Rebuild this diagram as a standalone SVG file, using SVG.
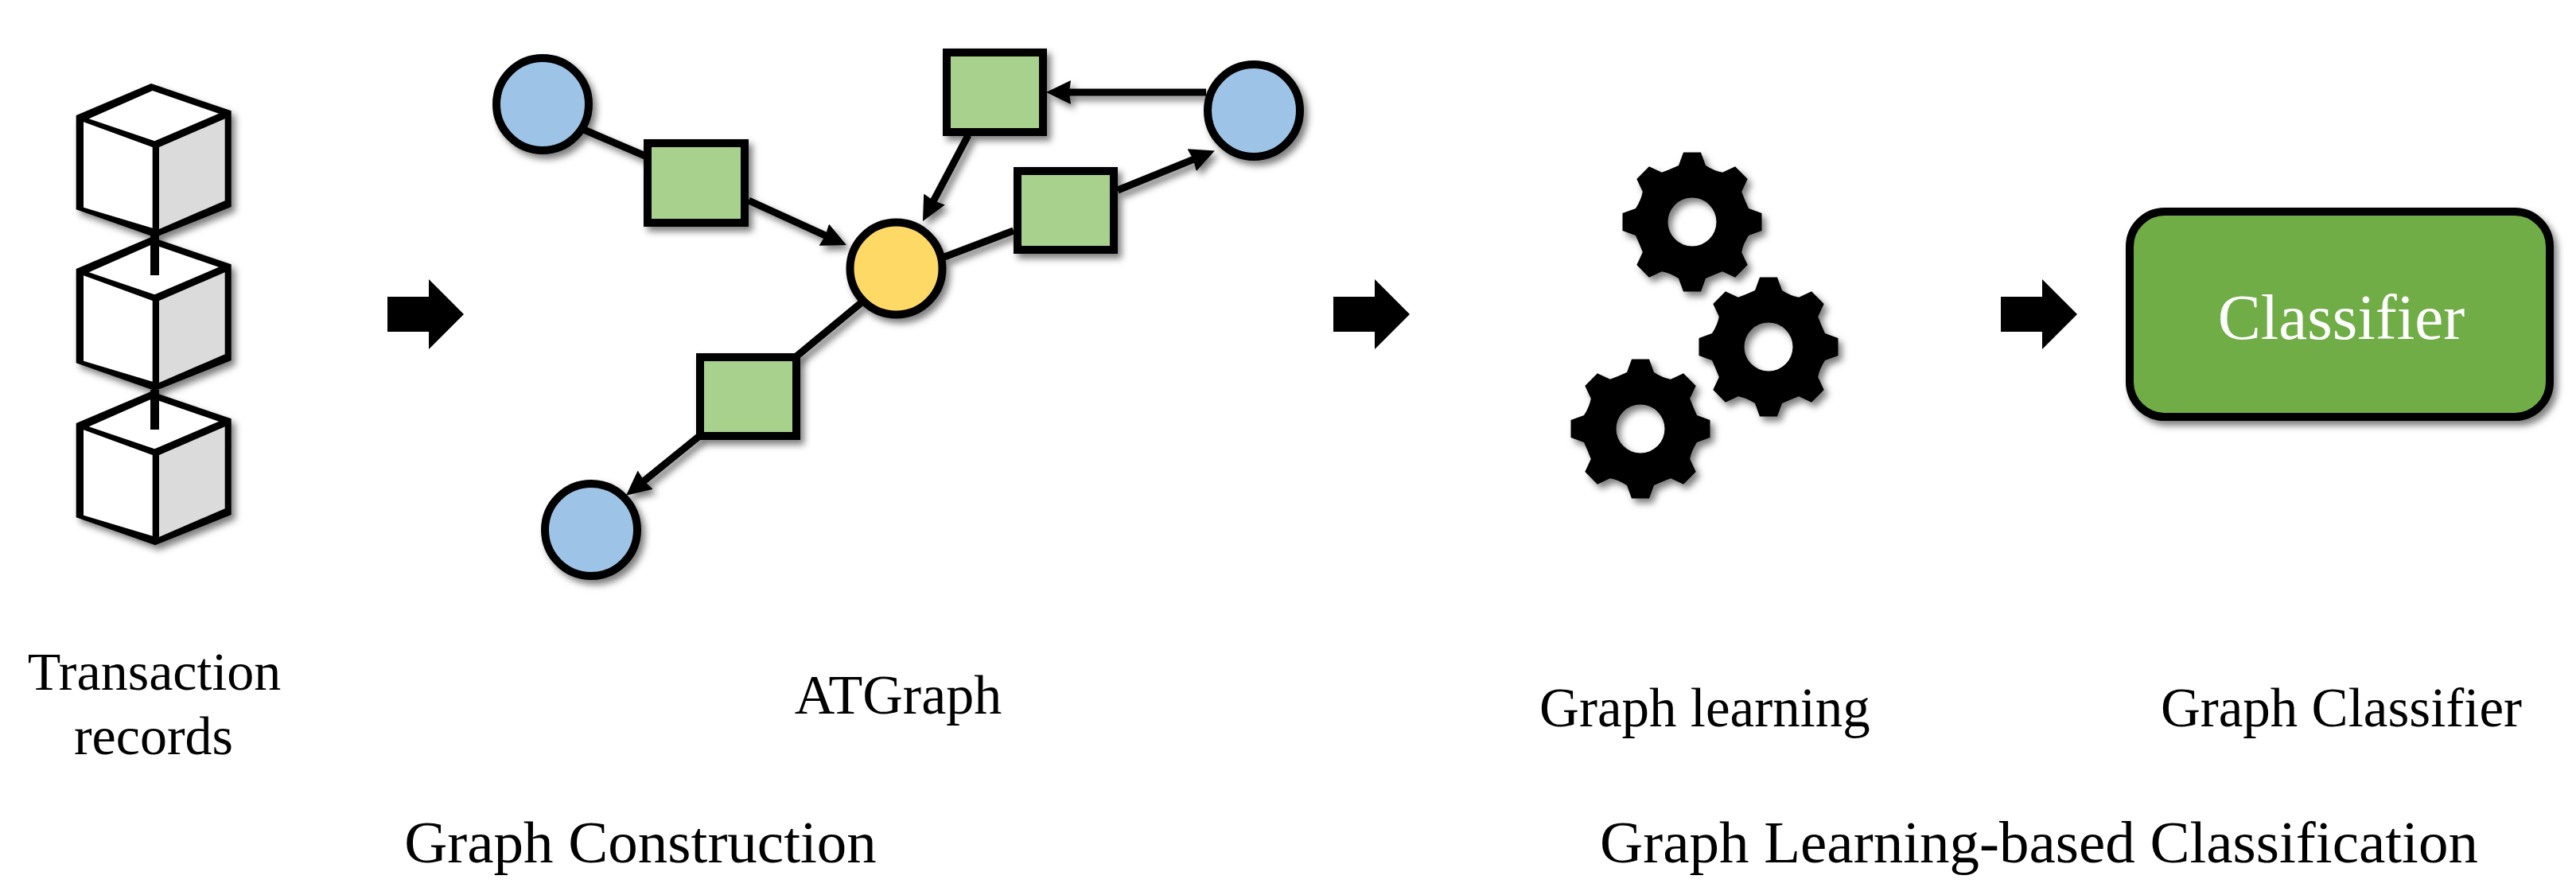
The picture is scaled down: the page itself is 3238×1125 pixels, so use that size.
<svg xmlns="http://www.w3.org/2000/svg" xmlns:xlink="http://www.w3.org/1999/xlink" width="3238" height="1125" viewBox="0 0 3238 1125">
<style>
text{font-family:"Liberation Serif","Times New Roman",serif;fill:#000;text-anchor:middle}
.t{font-size:69px}
.h{font-size:68px}
.b{font-size:75px}
.sq{fill:#a9d18e;stroke:#000;stroke-width:10}
.bl{fill:#9dc3e6;stroke:#000;stroke-width:10}
.ye{fill:#ffd966;stroke:#000;stroke-width:10}
.ln{stroke:#000;stroke-width:9;fill:none}
.ar{marker-end:url(#ah)}
</style>
<defs>
<filter id="sh" x="-20%" y="-20%" width="150%" height="150%"><feDropShadow dx="5" dy="6" stdDeviation="4" flood-color="#000" flood-opacity="0.5"/></filter>
<marker id="ah" viewBox="0 0 31 30" refX="16" refY="15" markerWidth="31" markerHeight="30" markerUnits="userSpaceOnUse" orient="auto"><path d="M0 0L31 15L0 30L2 15Z" fill="#000"/></marker>
<path id="gear" fill-rule="evenodd" fill="#000" d="M-11-87.5L11-87.5L17-71Q28-64 38.1-62.2L54.1-69.7L69.7-54.1L62.2-38.1Q66-28 71-17L87.5-11L87.5 11L71 17Q64 28 62.2 38.1L69.7 54.1L54.1 69.7L38.1 62.2Q28 66 17 71L11 87.5L-11 87.5L-17 71Q-28 64-38.1 62.2L-54.1 69.7L-69.7 54.1L-62.2 38.1Q-66 28-71 17L-87.5 11L-87.5-11L-71-17Q-64-28-62.2-38.1L-69.7-54.1L-54.1-69.7L-38.1-62.2Q-28-66-17-71ZM30.5 0A30.5 30.5 0 1 0-30.5 0A30.5 30.5 0 1 0 30.5 0Z"/>
<g id="cube">
<path d="M190 105L290.7 139.3V260L195 298.3L95.7 263.3V145Z" fill="#000"/>
<path d="M191.7 114L275 142.7L194.3 177.3L111.7 149.3Z" fill="#fff"/>
<path d="M105 153.3L191.7 185V286.7L105 260.7Z" fill="#fff"/>
<path d="M200 185L282.7 149.3V252.3L200 288Z" fill="#dbdbdb"/>
</g>
<path id="block" d="M0 22H52V0L96 44L52 88V66H0Z" fill="#000"/>
</defs>
<rect width="3238" height="1125" fill="#fff"/>
<g id="blockchain" filter="url(#sh)">
<use href="#cube"/>
<use href="#cube" y="193"/>
<use href="#cube" y="387"/>
<rect x="189" y="296" width="11" height="50"/>
<rect x="189" y="490" width="11" height="50"/>
</g>
<g id="connectors" filter="url(#sh)">
<path class="ln" d="M734 163L811 196"/>
<path class="ln ar" d="M941 252L1050.3 301.8"/>
<path class="ln ar" d="M1217 170L1167 264.7"/>
<path class="ln ar" d="M1516 116L1330 116"/>
<path class="ln" d="M1187 323L1274 290"/>
<path class="ln ar" d="M1405 239L1513 195.2"/>
<path class="ln" d="M1082 381L1001 448"/>
<path class="ln ar" d="M878 549L798.7 613.2"/>
</g>
<g id="node-blue-1" filter="url(#sh)"><circle class="bl" cx="682" cy="131" r="58"/></g>
<g id="node-blue-2" filter="url(#sh)"><circle class="bl" cx="1576" cy="139" r="58"/></g>
<g id="node-blue-3" filter="url(#sh)"><circle class="bl" cx="743" cy="666" r="58"/></g>
<g id="node-yellow" filter="url(#sh)"><circle class="ye" cx="1126.5" cy="337.5" r="58"/></g>
<g id="node-sq-1" filter="url(#sh)"><rect class="sq" x="814" y="180" width="122" height="100"/></g>
<g id="node-sq-2" filter="url(#sh)"><rect class="sq" x="1190" y="66" width="121" height="100"/></g>
<g id="node-sq-3" filter="url(#sh)"><rect class="sq" x="1279" y="215" width="121" height="99"/></g>
<g id="node-sq-4" filter="url(#sh)"><rect class="sq" x="880" y="449" width="121" height="99"/></g>
<g id="gears" filter="url(#sh)">
<use href="#gear" x="2127" y="279"/>
<use href="#gear" x="2223" y="436"/>
<use href="#gear" x="2062" y="539"/>
</g>
<g id="arrow-1"><use href="#block" x="487" y="351"/></g>
<g id="arrow-2"><use href="#block" x="1676" y="351"/></g>
<g id="arrow-3"><use href="#block" x="2515" y="351"/></g>
<g id="classifier">
<rect x="2677" y="266" width="528" height="258" rx="44" fill="#70ad47" stroke="#000" stroke-width="10" filter="url(#sh)"/>
<text x="2943" y="426" font-size="81" style="fill:#fff">Classifier</text>
</g>
<g id="labels">
<text class="h" x="194" y="867">Transaction</text>
<text class="h" x="193" y="948">records</text>
<text class="t" x="1129" y="897" style="font-size:70px">ATGraph</text>
<text class="t" x="2143" y="913">Graph learning</text>
<text class="t" x="2943" y="913">Graph Classifier</text>
<text class="b" x="805" y="1084">Graph Construction</text>
<text class="b" x="2563" y="1084">Graph Learning-based Classification</text>
</g>
</svg>
